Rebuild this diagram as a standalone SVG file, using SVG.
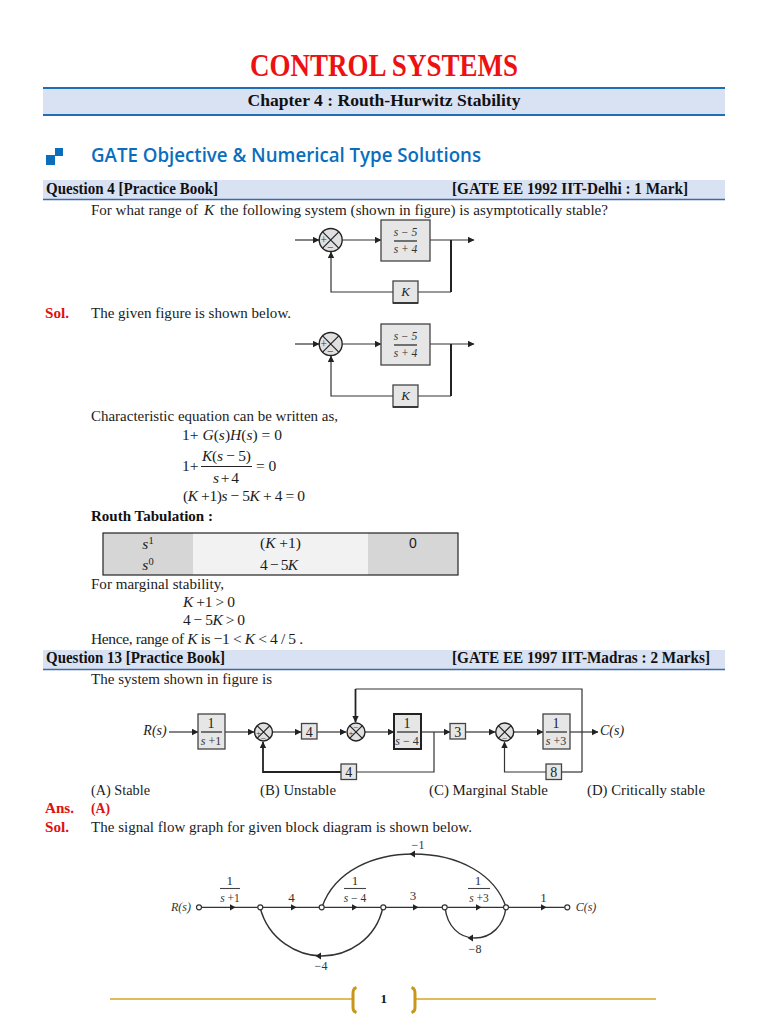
<svg xmlns="http://www.w3.org/2000/svg" width="768" height="1024" viewBox="0 0 768 1024">
<style>
text{font-family:"Liberation Serif","Times New Roman",serif;font-size:15.500px;fill:#1c1c1c}
.b{font-weight:bold;fill:#111}
.r{font-weight:bold;fill:#e01010}
.i{font-style:italic}
.m{text-anchor:middle}
.s{font-size:11.500px;fill:#333}
.t{font-size:14px;fill:#222}
.l9{font-size:13px;fill:#333}
.box{fill:#e6e6e6;stroke:#444;stroke-width:1.3}
.sum{fill:#e0e0e0;stroke:#222;stroke-width:1.4}
.x{stroke:#222;stroke-width:1.2;fill:none}
.l{fill:none;stroke:#333;stroke-width:1.2}
.k{fill:none;stroke:#222;stroke-width:2}
.a{fill:none;stroke:#333;stroke-width:1.2;marker-end:url(#ah)}
.ka{fill:none;stroke:#222;stroke-width:1.800;marker-end:url(#ahk)}
.band{fill:#d9e2f3}
.rule{stroke:#3a6aa8;stroke-width:1.5}
.n{fill:#fff;stroke:#333;stroke-width:1.2}
.tri{fill:#222}
.fr{stroke:#444;stroke-width:1.100}
</style>
<defs>
<marker id="ah" markerUnits="userSpaceOnUse" markerWidth="7" markerHeight="7" refX="6" refY="3.5" orient="auto"><path d="M0 0.3L6.5 3.5L0 6.7z" fill="#222"/></marker>
<marker id="ahk" markerUnits="userSpaceOnUse" markerWidth="7" markerHeight="7" refX="6" refY="3.5" orient="auto"><path d="M0 0.3L6.5 3.5L0 6.7z" fill="#222"/></marker>
</defs>
<rect width="768" height="1024" fill="#fff"/>

<g id="header">
<text x="384" y="76" class="m" style="font-size:31px;font-weight:bold;fill:#ee1111" textLength="268" lengthAdjust="spacingAndGlyphs">CONTROL SYSTEMS</text>
<rect x="43" y="88" width="682" height="27" class="band"/>
<path d="M43 88H725M43 115H725" stroke="#1f6fb5" stroke-width="2"/>
<text x="384" y="106" class="m b" style="font-size:17.500px" textLength="273" lengthAdjust="spacingAndGlyphs">Chapter 4 : Routh-Hurwitz Stability</text>
<rect x="46" y="155" width="9" height="10" fill="#0a6ebd"/><rect x="55" y="148" width="8" height="8" fill="#0a6ebd"/>
<text x="91" y="162" style="font-family:'Open Sans','Noto Sans',sans-serif;font-size:19px;font-weight:600;fill:#0a6ebd" textLength="390" lengthAdjust="spacingAndGlyphs">GATE Objective &amp; Numerical Type Solutions</text>
</g>

<g id="question4">
<rect x="43" y="180" width="682" height="19" class="band"/>
<path d="M43 199.500H725" class="rule"/>
<text x="46" y="194" class="b" style="font-size:16px" textLength="172" lengthAdjust="spacingAndGlyphs">Question 4 [Practice Book]</text>
<text x="452" y="194" class="b" style="font-size:16px" textLength="236" lengthAdjust="spacingAndGlyphs">[GATE EE 1992 IIT-Delhi : 1 Mark]</text>
<text x="91" y="215" textLength="107" lengthAdjust="spacingAndGlyphs">For what range of</text>
<text x="204" y="215" class="i">K</text>
<text x="220" y="215" textLength="388" lengthAdjust="spacingAndGlyphs">the following system (shown in figure) is asymptotically stable?</text>
</g>

<g id="connectors">
<path d="M295 240H319" class="a"/><path d="M342.500 240H381" class="a"/><path d="M430 240H474" class="a"/>
<path d="M451 240V292" class="k"/><path d="M451 292H418" class="l"/>
<path d="M393 292H331V252" class="a"/>
<path d="M295 344H319" class="a"/><path d="M342.500 344H381" class="a"/><path d="M430 344H474" class="a"/>
<path d="M451 344V396" class="k"/><path d="M451 396H418" class="l"/>
<path d="M393 396H331V356" class="a"/>

<path d="M169 732H198" class="a"/><path d="M225 732H254" class="a"/><path d="M273 732H301" class="a"/><path d="M317 732H346" class="a"/><path d="M365 732H394" class="a"/><path d="M421 732H450" class="a"/><path d="M465.500 732H495" class="a"/><path d="M514 732H543" class="a"/><path d="M570 732H598" class="a"/>
<path d="M582 772V689H355.500" class="l"/><path d="M582 772H561" class="l"/>
<path d="M355.500 689V722" class="ka"/>
<path d="M434 732V772H356" class="l"/><path d="M341 772H263V742" class="ka"/>
<path d="M546 772H504.500V742" class="a"/>

<path d="M199 907.300H567" class="l"/>
<path d="M260 907C268 940 298 956 322 956C347 956 376 940 383 907" class="l" style="stroke-width:1.4"/>
<path d="M322 907C335 870 375 854 413 854C460 854 495 875 506 907" class="l" style="stroke-width:1.4"/>
<path d="M445 907C447 926 459 938 475 938C491 938 504 926 506 907" class="l" style="stroke-width:1.4"/>
<g class="tri">
<path d="M230 904.200L235.500 907.300L230 910.400z"/><path d="M291 904.200L296.500 907.300L291 910.400z"/><path d="M352 904.200L357.500 907.300L352 910.400z"/><path d="M413 904.200L418.500 907.300L413 910.400z"/><path d="M476 904.200L481.500 907.300L476 910.400z"/><path d="M541 904.200L546.500 907.300L541 910.400z"/>
<path d="M321 952.600L315.500 956L321 959.400z"/><path d="M415 850.600L409.500 854L415 857.400z"/><path d="M473 934.600L467.500 938L473 941.400z"/>
</g>
</g>

<g id="sum1"><circle cx="330.700" cy="240" r="11.500" class="sum"/><path d="M322.600 231.900L338.800 248.100M338.800 231.900L322.600 248.100" class="x"/><text x="320.500" y="244" class="s">+</text><text x="327" y="251" class="s">−</text></g>
<g id="g1"><rect x="381" y="220" width="49" height="41" class="box"/><text x="405.500" y="236" class="m i s">s − 5</text><path d="M394 241H417" class="x"/><text x="405.500" y="253" class="m i s">s + 4</text></g>
<g id="h1"><rect x="393" y="281" width="25" height="22" class="box"/><path d="M393 303H418" stroke="#222" stroke-width="1.500"/><text x="405.500" y="296" class="m i t" style="font-size:13px">K</text></g>

<g id="sol4">
<text x="45" y="318" class="r" textLength="24" lengthAdjust="spacingAndGlyphs">Sol.</text>
<text x="91" y="318" textLength="200" lengthAdjust="spacingAndGlyphs">The given figure is shown below.</text>
</g>

<g id="sum2"><circle cx="330.700" cy="344" r="11.500" class="sum"/><path d="M322.600 335.900L338.800 352.100M338.800 335.900L322.600 352.100" class="x"/><text x="320.500" y="348" class="s">+</text><text x="327" y="355" class="s">−</text></g>
<g id="g2"><rect x="381" y="324" width="49" height="41" class="box"/><text x="405.500" y="340" class="m i s">s − 5</text><path d="M394 345H417" class="x"/><text x="405.500" y="357" class="m i s">s + 4</text></g>
<g id="h2"><rect x="393" y="385" width="25" height="22" class="box"/><path d="M393 407H418" stroke="#222" stroke-width="1.500"/><text x="405.500" y="400" class="m i t" style="font-size:13px">K</text></g>

<g id="equations">
<text x="91" y="421" textLength="247" lengthAdjust="spacingAndGlyphs">Characteristic equation can be written as,</text>
<text x="182" y="440" textLength="100" lengthAdjust="spacing">1+ <tspan class="i">G</tspan>(<tspan class="i">s</tspan>)<tspan class="i">H</tspan>(<tspan class="i">s</tspan>) = 0</text>
<text x="182" y="471">1+</text>
<text x="202" y="461" textLength="49" lengthAdjust="spacing"><tspan class="i">K</tspan>(<tspan class="i">s</tspan> − 5)</text>
<path d="M201 466.500H252" class="x"/>
<text x="213" y="483" textLength="26" lengthAdjust="spacing"><tspan class="i">s</tspan> + 4</text>
<text x="256" y="471">= 0</text>
<text x="183" y="501" textLength="122" lengthAdjust="spacing">(<tspan class="i">K</tspan> +1)<tspan class="i">s</tspan> − 5<tspan class="i">K</tspan> + 4 = 0</text>
<text x="91" y="521" class="b" textLength="122" lengthAdjust="spacingAndGlyphs">Routh Tabulation :</text>
</g>

<g id="routh-table">
<rect x="103" y="533" width="90" height="42" fill="#d6d6d6"/>
<rect x="193" y="533" width="175" height="42" fill="#f2f2f2"/>
<rect x="368" y="533" width="90" height="42" fill="#d6d6d6"/>
<rect x="103" y="533" width="355" height="42" fill="none" stroke="#222" stroke-width="1.200"/>
<text x="148" y="549" class="m"><tspan class="i">s</tspan><tspan dy="-5" style="font-size:10.500px">1</tspan></text>
<text x="148" y="570" class="m"><tspan class="i">s</tspan><tspan dy="-5" style="font-size:10.500px">0</tspan></text>
<text x="260" y="548" textLength="41" lengthAdjust="spacing">(<tspan class="i">K</tspan> +1)</text>
<text x="260" y="570" textLength="38" lengthAdjust="spacing">4 − 5<tspan class="i">K</tspan></text>
<text x="413" y="548" class="m" style="font-family:'Liberation Sans',sans-serif;font-size:14px">0</text>
</g>

<g id="stability">
<text x="91" y="589" textLength="133" lengthAdjust="spacingAndGlyphs">For marginal stability,</text>
<text x="183" y="607" textLength="52" lengthAdjust="spacing"><tspan class="i">K</tspan> +1 &gt; 0</text>
<text x="183" y="625" textLength="62" lengthAdjust="spacing">4 − 5<tspan class="i">K</tspan> &gt; 0</text>
<text x="91" y="644" textLength="212" lengthAdjust="spacing">Hence, range of <tspan class="i">K</tspan> is  −1 &lt; <tspan class="i">K</tspan> &lt; 4 / 5 .</text>
</g>

<g id="question13">
<rect x="43" y="650" width="682" height="19" class="band"/>
<path d="M43 669.500H725" class="rule"/>
<text x="46" y="663" class="b" style="font-size:16px" textLength="179" lengthAdjust="spacingAndGlyphs">Question 13 [Practice Book]</text>
<text x="452" y="663" class="b" style="font-size:16px" textLength="258" lengthAdjust="spacingAndGlyphs">[GATE EE 1997 IIT-Madras : 2 Marks]</text>
<text x="91" y="684" textLength="181" lengthAdjust="spacingAndGlyphs">The system shown in figure is</text>
</g>

<g id="R"><text x="155" y="735" class="m i t">R(s)</text></g>
<g id="b1"><rect x="198" y="714" width="27" height="35" class="box"/><text x="211" y="728" class="m t">1</text><path d="M201 732H222" class="x"/><text x="211" y="745" class="m s" style="font-size:12px"><tspan class="i">s</tspan> +1</text></g>
<g id="s1"><circle cx="263.500" cy="732" r="9" class="sum"/><path d="M257.100 725.600L269.900 738.400M269.900 725.600L257.100 738.400" class="x"/><text x="256" y="736" class="s" style="font-size:9px">+</text><text x="260.500" y="741" class="s" style="font-size:9px">−</text></g>
<g id="b2"><rect x="301.500" y="723.500" width="15.500" height="15.500" class="box"/><text x="309.200" y="736.500" class="m t">4</text></g>
<g id="s2"><circle cx="356" cy="732" r="9" class="sum"/><path d="M349.600 725.600L362.400 738.400M362.400 725.600L349.600 738.400" class="x"/><text x="348.500" y="736" class="s" style="font-size:9px">+</text><text x="353" y="730" class="s" style="font-size:9px">−</text></g>
<g id="b3"><rect x="394" y="714" width="27" height="35" class="box" style="stroke-width:2;stroke:#222"/><text x="407" y="728" class="m t">1</text><path d="M397 732H418" class="x"/><text x="407" y="745" class="m s" style="font-size:12px"><tspan class="i">s</tspan> − 4</text></g>
<g id="b4"><rect x="450" y="723.500" width="15.500" height="15.500" class="box"/><text x="457.700" y="736.500" class="m t">3</text></g>
<g id="s3"><circle cx="504.700" cy="732" r="9" class="sum"/><path d="M498.300 725.600L511.100 738.400M511.100 725.600L498.300 738.400" class="x"/><text x="501.700" y="741" class="s" style="font-size:9px">−</text></g>
<g id="b5"><rect x="543" y="714" width="27" height="35" class="box"/><text x="556" y="728" class="m t">1</text><path d="M546 732H567" class="x"/><text x="556" y="745" class="m s" style="font-size:12px"><tspan class="i">s</tspan> +3</text></g>
<g id="C"><text x="612" y="735" class="m i t">C(s)</text></g>
<g id="b6"><rect x="341" y="764" width="15.500" height="15.500" class="box"/><text x="348.700" y="776.500" class="m t">4</text></g>
<g id="b7"><rect x="546" y="764" width="15.500" height="15.500" class="box"/><text x="553.700" y="776.500" class="m t">8</text></g>

<g id="options">
<text x="91" y="795" textLength="59" lengthAdjust="spacingAndGlyphs">(A) Stable</text>
<text x="260" y="795" textLength="76" lengthAdjust="spacingAndGlyphs">(B) Unstable</text>
<text x="429" y="795" textLength="119" lengthAdjust="spacingAndGlyphs">(C) Marginal Stable</text>
<text x="587" y="795" textLength="118" lengthAdjust="spacingAndGlyphs">(D) Critically stable</text>
<text x="45" y="813" class="r" textLength="29" lengthAdjust="spacingAndGlyphs">Ans.</text>
<text x="91" y="813" class="r" textLength="19" lengthAdjust="spacingAndGlyphs">(A)</text>
<text x="45" y="832" class="r" textLength="24" lengthAdjust="spacingAndGlyphs">Sol.</text>
<text x="91" y="832" textLength="381" lengthAdjust="spacingAndGlyphs">The signal flow graph for given block diagram is shown below.</text>
</g>

<g id="sfg-labels">
<text x="181" y="911" class="m i l9" style="font-size:12px">R(s)</text>
<text x="229.700" y="885" class="m l9">1</text><path d="M220 888.500H240" class="fr"/><text x="230" y="902" class="m s"><tspan class="i">s</tspan> +1</text>
<text x="291.500" y="902" class="m l9">4</text>
<text x="355" y="885" class="m l9">1</text><path d="M344 888.500H366" class="fr"/><text x="355" y="902" class="m s"><tspan class="i">s</tspan> − 4</text>
<text x="413" y="900" class="m l9">3</text>
<text x="478" y="885" class="m l9">1</text><path d="M468 888.500H490" class="fr"/><text x="479" y="902" class="m s"><tspan class="i">s</tspan> +3</text>
<text x="543.500" y="902" class="m l9">1</text>
<text x="586" y="911" class="m i l9" style="font-size:12px">C(s)</text>
<text x="418" y="849" class="m s" style="font-size:12px">−1</text>
<text x="321" y="970" class="m s" style="font-size:12px">−4</text>
<text x="475" y="953" class="m s" style="font-size:12px">−8</text>
</g>
<g id="sfg-nodes">
<circle cx="199" cy="907.300" r="2.500" class="n"/><circle cx="260.300" cy="907.300" r="2.500" class="n"/><circle cx="321.700" cy="907.300" r="2.500" class="n"/><circle cx="383.300" cy="907.300" r="2.500" class="n"/><circle cx="444.700" cy="907.300" r="2.500" class="n"/><circle cx="506" cy="907.300" r="2.500" class="n"/><circle cx="567.300" cy="907.300" r="2.500" class="n"/>
</g>

<g id="footer">
<path d="M110 999H352M416 999H656" stroke="#d6a520" stroke-width="1.300"/>
<path d="M356.500 987.500C353 988.500 353 991 353 995V1006C353 1009.500 353 1011.500 356.500 1012.500" fill="none" stroke="#c8961a" stroke-width="3"/>
<path d="M411.500 987.500C415 988.500 415 991 415 995V1006C415 1009.500 415 1011.500 411.500 1012.500" fill="none" stroke="#c8961a" stroke-width="3"/>
<text x="383.700" y="1003" class="m b" style="font-size:13px">1</text>
</g>
</svg>
